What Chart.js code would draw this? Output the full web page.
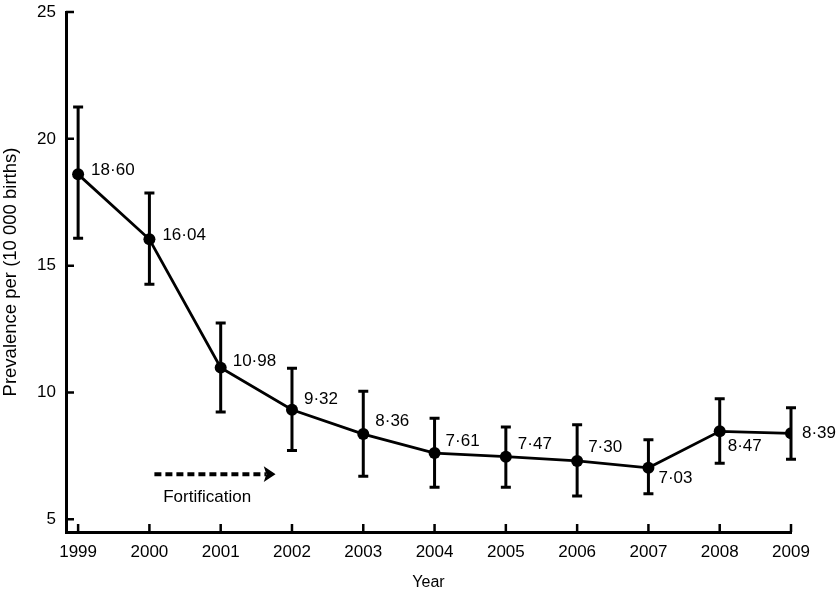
<!DOCTYPE html>
<html>
<head>
<meta charset="utf-8">
<script src="https://cdn.jsdelivr.net/npm/chart.js@4.4.1/dist/chart.umd.min.js"></script>
<style>
  html, body { margin: 0; padding: 0; background: #fff; }
  #wrap { width: 837px; height: 596px; }
</style>
</head>
<body>
<div id="wrap"><canvas id="chart"></canvas></div>
<script>
// Data
const years = [1999, 2000, 2001, 2002, 2003, 2004, 2005, 2006, 2007, 2008, 2009];
const prevalence = [18.60, 16.04, 10.98, 9.32, 8.36, 7.61, 7.47, 7.30, 7.03, 8.47, 8.39];
const ciLow = [16.08, 14.27, 9.23, 7.71, 6.70, 6.26, 6.26, 5.92, 6.01, 7.21, 7.37];
const ciHigh = [21.25, 17.86, 12.74, 10.96, 10.05, 8.98, 8.64, 8.73, 8.14, 9.75, 9.40];
const yTicks = [5, 10, 15, 20, 25];

// Fortification annotation (in data units)
const fortStart = 2000.07;
const fortEnd = 2001.75;
const fortY = 6.78;
const fortTextX = 2000.81;
const fortTextY = 5.87;

// label offsets in px [dx, dy] relative to each point
const labelOffset = [[13, -4], [13, -4], [12, -6], [12, -10], [12, -13], [11, -12],
                     [12, -12], [11, -14], [10, 10], [8, 15], [11, 0]];

const FONT = "'Liberation Sans', Arial, sans-serif";

const fmt = v => v.toFixed(2).replace(".", "\u00B7");

// Draws error bars, inward tick marks, value labels and the arrow
const extrasPlugin = {
    id: "extras",
    afterDatasetsDraw(chart) {
        const ctx = chart.ctx;
        const xs = chart.scales.x;
        const ys = chart.scales.y;
        const area = chart.chartArea;
        ctx.save();
        ctx.strokeStyle = "#000";
        ctx.fillStyle = "#000";

        // error bars
        ctx.lineWidth = 3;
        years.forEach((yr, i) => {
            const x = xs.getPixelForValue(yr);
            const yl = ys.getPixelForValue(ciLow[i]);
            const yh = ys.getPixelForValue(ciHigh[i]);
            ctx.beginPath();
            ctx.moveTo(x, yl);
            ctx.lineTo(x, yh);
            ctx.moveTo(x - 5, yl);
            ctx.lineTo(x + 5, yl);
            ctx.moveTo(x - 5, yh);
            ctx.lineTo(x + 5, yh);
            ctx.stroke();
        });

        // inward tick marks
        ctx.lineWidth = 2.5;
        ctx.beginPath();
        yTicks.forEach(t => {
            const y = ys.getPixelForValue(t);
            ctx.moveTo(area.left, y);
            ctx.lineTo(area.left + 8, y);
        });
        years.forEach(yr => {
            const x = xs.getPixelForValue(yr);
            ctx.moveTo(x, area.bottom);
            ctx.lineTo(x, area.bottom - 8);
        });
        ctx.stroke();

        // value labels
        ctx.font = "17px " + FONT;
        ctx.textAlign = "left";
        ctx.textBaseline = "middle";
        years.forEach((yr, i) => {
            const x = xs.getPixelForValue(yr);
            const y = ys.getPixelForValue(prevalence[i]);
            ctx.fillText(fmt(prevalence[i]), x + labelOffset[i][0], y + labelOffset[i][1]);
        });

        // fortification arrow
        const ax0 = xs.getPixelForValue(fortStart);
        const ax1 = xs.getPixelForValue(fortEnd);
        const ay = ys.getPixelForValue(fortY);
        ctx.lineWidth = 4;
        ctx.setLineDash([7, 4]);
        ctx.beginPath();
        ctx.moveTo(ax0, ay);
        ctx.lineTo(ax1 - 8, ay);
        ctx.stroke();
        ctx.setLineDash([]);
        ctx.beginPath();
        ctx.moveTo(ax1, ay);
        ctx.lineTo(ax1 - 9, ay - 6);
        ctx.lineTo(ax1 - 7, ay);
        ctx.lineTo(ax1 - 9, ay + 6);
        ctx.closePath();
        ctx.fill();
        ctx.lineWidth = 1.5;
        ctx.stroke();

        ctx.textAlign = "center";
        ctx.fillText("Fortification", xs.getPixelForValue(fortTextX), ys.getPixelForValue(fortTextY));
        ctx.restore();
    }
};

const ctx = document.getElementById("chart").getContext("2d");
new Chart(ctx, {
    type: "line",
    data: {
        datasets: [{
            data: years.map((yr, i) => ({ x: yr, y: prevalence[i] })),
            borderColor: "#000",
            backgroundColor: "#000",
            borderWidth: 2.8,
            pointRadius: 6,
            pointBackgroundColor: "#000",
            pointBorderWidth: 0,
            tension: 0
        }]
    },
    options: {
        responsive: true,
        maintainAspectRatio: false,
        animation: false,
        layout: { padding: { top: 12, right: 46, left: 0, bottom: 0 } },
        plugins: {
            legend: { display: false },
            tooltip: { enabled: false }
        },
        scales: {
            x: {
                type: "linear",
                min: 1998.83,
                max: 2009,
                afterBuildTicks: s => { s.ticks = years.map(v => ({ value: v })); },
                afterFit: s => { s.height = 64; },
                grid: { display: false, drawTicks: false },
                border: { display: true, color: "#000", width: 3 },
                ticks: {
                    color: "#000",
                    padding: 10,
                    font: { family: FONT, size: 17 },
                    callback: v => String(v)
                },
                title: {
                    display: true,
                    text: "Year",
                    color: "#000",
                    font: { family: FONT, size: 16 },
                    padding: { top: 0, bottom: 4 }
                }
            },
            y: {
                min: 4.5,
                max: 25,
                afterBuildTicks: s => { s.ticks = yTicks.map(v => ({ value: v })); },
                afterFit: s => { s.width = 66; s.paddingTop = 0; s.paddingBottom = 0; },
                grid: { display: false, drawTicks: false },
                border: { display: true, color: "#000", width: 3 },
                ticks: {
                    color: "#000",
                    padding: 10,
                    font: { family: FONT, size: 17 }
                },
                title: {
                    display: true,
                    text: "Prevalence per (10 000 births)",
                    color: "#000",
                    font: { family: FONT, size: 18.5 },
                    padding: { top: 0, bottom: 0 }
                }
            }
        }
    },
    plugins: [extrasPlugin]
});
</script>
</body>
</html>
